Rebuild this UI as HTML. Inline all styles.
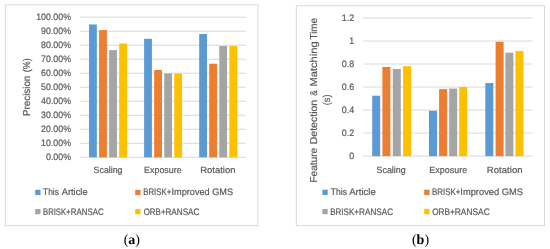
<!DOCTYPE html><html><head><meta charset="utf-8"><style>html,body{margin:0;padding:0;background:#fff;}svg{display:block}text{font-family:"Liberation Sans",sans-serif;fill:#595959;stroke:#595959;stroke-width:0.2px;text-rendering:geometricPrecision}</style></head><body>
<svg width="550" height="249" viewBox="0 0 550 249">
<rect width="550" height="249" fill="#fff"/>
<rect x="5.3" y="4.8" width="252.60" height="220.80" fill="none" stroke="#d9d9d9" stroke-width="1"/>
<line x1="80.2" x2="245.7" y1="17.20" y2="17.20" stroke="#d9d9d9" stroke-width="1"/>
<text transform="translate(71,20.20) scale(0.94,1)" text-anchor="end" font-size="9.4">100.00%</text>
<line x1="80.2" x2="245.7" y1="31.21" y2="31.21" stroke="#d9d9d9" stroke-width="1"/>
<text transform="translate(71,34.21) scale(0.94,1)" text-anchor="end" font-size="9.4">90.00%</text>
<line x1="80.2" x2="245.7" y1="45.22" y2="45.22" stroke="#d9d9d9" stroke-width="1"/>
<text transform="translate(71,48.22) scale(0.94,1)" text-anchor="end" font-size="9.4">80.00%</text>
<line x1="80.2" x2="245.7" y1="59.23" y2="59.23" stroke="#d9d9d9" stroke-width="1"/>
<text transform="translate(71,62.23) scale(0.94,1)" text-anchor="end" font-size="9.4">70.00%</text>
<line x1="80.2" x2="245.7" y1="73.24" y2="73.24" stroke="#d9d9d9" stroke-width="1"/>
<text transform="translate(71,76.24) scale(0.94,1)" text-anchor="end" font-size="9.4">60.00%</text>
<line x1="80.2" x2="245.7" y1="87.25" y2="87.25" stroke="#d9d9d9" stroke-width="1"/>
<text transform="translate(71,90.25) scale(0.94,1)" text-anchor="end" font-size="9.4">50.00%</text>
<line x1="80.2" x2="245.7" y1="101.26" y2="101.26" stroke="#d9d9d9" stroke-width="1"/>
<text transform="translate(71,104.26) scale(0.94,1)" text-anchor="end" font-size="9.4">40.00%</text>
<line x1="80.2" x2="245.7" y1="115.27" y2="115.27" stroke="#d9d9d9" stroke-width="1"/>
<text transform="translate(71,118.27) scale(0.94,1)" text-anchor="end" font-size="9.4">30.00%</text>
<line x1="80.2" x2="245.7" y1="129.28" y2="129.28" stroke="#d9d9d9" stroke-width="1"/>
<text transform="translate(71,132.28) scale(0.94,1)" text-anchor="end" font-size="9.4">20.00%</text>
<line x1="80.2" x2="245.7" y1="143.29" y2="143.29" stroke="#d9d9d9" stroke-width="1"/>
<text transform="translate(71,146.29) scale(0.94,1)" text-anchor="end" font-size="9.4">10.00%</text>
<line x1="80.2" x2="245.7" y1="157.30" y2="157.30" stroke="#d9d9d9" stroke-width="1"/>
<text transform="translate(71,160.30) scale(0.94,1)" text-anchor="end" font-size="9.4">0.00%</text>
<rect x="89.05" y="24.49" width="7.8" height="132.81" fill="#5b9bd5"/>
<rect x="99.10" y="30.09" width="7.8" height="127.21" fill="#ed7d31"/>
<rect x="109.15" y="50.12" width="7.8" height="107.18" fill="#a5a5a5"/>
<rect x="119.20" y="43.40" width="7.8" height="113.90" fill="#ffc000"/>
<rect x="144.12" y="38.78" width="7.8" height="118.52" fill="#5b9bd5"/>
<rect x="154.17" y="70.02" width="7.8" height="87.28" fill="#ed7d31"/>
<rect x="164.22" y="73.52" width="7.8" height="83.78" fill="#a5a5a5"/>
<rect x="174.27" y="73.52" width="7.8" height="83.78" fill="#ffc000"/>
<rect x="199.19" y="34.01" width="7.8" height="123.29" fill="#5b9bd5"/>
<rect x="209.24" y="63.71" width="7.8" height="93.59" fill="#ed7d31"/>
<rect x="219.29" y="46.06" width="7.8" height="111.24" fill="#a5a5a5"/>
<rect x="229.34" y="46.06" width="7.8" height="111.24" fill="#ffc000"/>
<text x="93.60" y="173.3" font-size="9.1" textLength="28.91" lengthAdjust="spacingAndGlyphs">Scaling</text>
<text x="144.05" y="173.3" font-size="9.1" textLength="37.59" lengthAdjust="spacingAndGlyphs">Exposure</text>
<text x="200.20" y="173.3" font-size="9.1" textLength="35.27" lengthAdjust="spacingAndGlyphs">Rotation</text>
<text x="43.06" y="195.3" font-size="9.4" textLength="15.88" lengthAdjust="spacingAndGlyphs">This</text>
<text x="61.69" y="195.3" font-size="9.4" textLength="25.93" lengthAdjust="spacingAndGlyphs">Article</text>
<text x="143.21" y="195.3" font-size="9.4" textLength="28.09" lengthAdjust="spacingAndGlyphs">BRISK+</text>
<text x="171.54" y="195.3" font-size="9.4" textLength="61.52" lengthAdjust="spacingAndGlyphs">Improved GMS</text>
<text x="43.00" y="214.6" font-size="9.4" textLength="27.61" lengthAdjust="spacingAndGlyphs">BRISK+</text>
<text x="70.66" y="214.6" font-size="9.4" textLength="33.06" lengthAdjust="spacingAndGlyphs">RANSAC</text>
<text x="143.70" y="214.6" font-size="9.4" textLength="21.84" lengthAdjust="spacingAndGlyphs">ORB+</text>
<text x="165.38" y="214.6" font-size="9.4" textLength="34.08" lengthAdjust="spacingAndGlyphs">RANSAC</text>
<text transform="translate(30.1,116.05) rotate(-90)" font-size="10.0" textLength="40.38" lengthAdjust="spacingAndGlyphs">Precision</text>
<text transform="translate(30.1,72.14) rotate(-90)" font-size="10.0" textLength="13.73" lengthAdjust="spacingAndGlyphs">(%)</text>
<rect x="35.2" y="189.8" width="5.3" height="5.3" fill="#5b9bd5"/>
<rect x="135.2" y="189.8" width="5.3" height="5.3" fill="#ed7d31"/>
<rect x="35.2" y="209.0" width="5.3" height="5.3" fill="#a5a5a5"/>
<rect x="135.2" y="209.0" width="5.3" height="5.3" fill="#ffc000"/>
<text x="131.8" y="243.7" text-anchor="middle" font-size="14" style="font-family:'Liberation Serif',serif;fill:#000;stroke:none">(<tspan font-weight="bold">a</tspan>)</text>
<rect x="296.3" y="5.8" width="248.20" height="219.80" fill="none" stroke="#d9d9d9" stroke-width="1"/>
<line x1="363.1" x2="532.5" y1="18.00" y2="18.00" stroke="#d9d9d9" stroke-width="1"/>
<text transform="translate(354.2,21.00) scale(0.95,1)" text-anchor="end" font-size="9.4">1.2</text>
<line x1="363.1" x2="532.5" y1="41.02" y2="41.02" stroke="#d9d9d9" stroke-width="1"/>
<text transform="translate(354.2,44.02) scale(0.95,1)" text-anchor="end" font-size="9.4">1</text>
<line x1="363.1" x2="532.5" y1="64.04" y2="64.04" stroke="#d9d9d9" stroke-width="1"/>
<text transform="translate(354.2,67.04) scale(0.95,1)" text-anchor="end" font-size="9.4">0.8</text>
<line x1="363.1" x2="532.5" y1="87.06" y2="87.06" stroke="#d9d9d9" stroke-width="1"/>
<text transform="translate(354.2,90.06) scale(0.95,1)" text-anchor="end" font-size="9.4">0.6</text>
<line x1="363.1" x2="532.5" y1="110.08" y2="110.08" stroke="#d9d9d9" stroke-width="1"/>
<text transform="translate(354.2,113.08) scale(0.95,1)" text-anchor="end" font-size="9.4">0.4</text>
<line x1="363.1" x2="532.5" y1="133.10" y2="133.10" stroke="#d9d9d9" stroke-width="1"/>
<text transform="translate(354.2,136.10) scale(0.95,1)" text-anchor="end" font-size="9.4">0.2</text>
<line x1="363.1" x2="532.5" y1="156.12" y2="156.12" stroke="#d9d9d9" stroke-width="1"/>
<text transform="translate(354.2,159.12) scale(0.95,1)" text-anchor="end" font-size="9.4">0</text>
<rect x="372.20" y="95.69" width="8.0" height="60.43" fill="#5b9bd5"/>
<rect x="382.40" y="66.92" width="8.0" height="89.20" fill="#ed7d31"/>
<rect x="392.80" y="68.99" width="8.0" height="87.13" fill="#a5a5a5"/>
<rect x="403.10" y="66.23" width="8.0" height="89.89" fill="#ffc000"/>
<rect x="429.00" y="110.77" width="8.0" height="45.35" fill="#5b9bd5"/>
<rect x="439.10" y="89.13" width="8.0" height="66.99" fill="#ed7d31"/>
<rect x="449.20" y="88.56" width="8.0" height="67.56" fill="#a5a5a5"/>
<rect x="459.20" y="87.06" width="8.0" height="69.06" fill="#ffc000"/>
<rect x="485.30" y="83.03" width="8.0" height="73.09" fill="#5b9bd5"/>
<rect x="495.60" y="41.83" width="8.0" height="114.29" fill="#ed7d31"/>
<rect x="505.40" y="52.65" width="8.0" height="103.47" fill="#a5a5a5"/>
<rect x="515.40" y="51.03" width="8.0" height="105.09" fill="#ffc000"/>
<text x="376.56" y="172.5" font-size="9.1" textLength="29.09" lengthAdjust="spacingAndGlyphs">Scaling</text>
<text x="429.37" y="172.5" font-size="9.1" textLength="37.89" lengthAdjust="spacingAndGlyphs">Exposure</text>
<text x="486.88" y="172.5" font-size="9.1" textLength="35.65" lengthAdjust="spacingAndGlyphs">Rotation</text>
<text x="330.84" y="195.3" font-size="9.4" textLength="16.11" lengthAdjust="spacingAndGlyphs">This</text>
<text x="349.22" y="195.3" font-size="9.4" textLength="26.52" lengthAdjust="spacingAndGlyphs">Article</text>
<text x="431.96" y="195.3" font-size="9.4" textLength="28.33" lengthAdjust="spacingAndGlyphs">BRISK+</text>
<text x="460.37" y="195.3" font-size="9.4" textLength="62.53" lengthAdjust="spacingAndGlyphs">Improved GMS</text>
<text x="330.23" y="214.6" font-size="9.4" textLength="28.70" lengthAdjust="spacingAndGlyphs">BRISK+</text>
<text x="359.12" y="214.6" font-size="9.4" textLength="33.96" lengthAdjust="spacingAndGlyphs">RANSAC</text>
<text x="432.21" y="214.6" font-size="9.4" textLength="22.51" lengthAdjust="spacingAndGlyphs">ORB+</text>
<text x="454.79" y="214.6" font-size="9.4" textLength="34.93" lengthAdjust="spacingAndGlyphs">RANSAC</text>
<text transform="translate(316.7,182.60) rotate(-90)" font-size="10.0" textLength="34.68" lengthAdjust="spacingAndGlyphs">Feature</text>
<text transform="translate(316.7,144.26) rotate(-90)" font-size="10.0" textLength="44.46" lengthAdjust="spacingAndGlyphs">Detection</text>
<text transform="translate(316.7,95.65) rotate(-90)" font-size="10.0" textLength="5.50" lengthAdjust="spacingAndGlyphs">&amp;</text>
<text transform="translate(316.7,86.59) rotate(-90)" font-size="10.0" textLength="45.18" lengthAdjust="spacingAndGlyphs">Matching</text>
<text transform="translate(316.7,39.49) rotate(-90)" font-size="10.0" textLength="21.52" lengthAdjust="spacingAndGlyphs">Time</text>
<text transform="translate(329.9,105.19) rotate(-90)" font-size="10.0" textLength="10.69" lengthAdjust="spacingAndGlyphs">(s)</text>
<rect x="322.4" y="189.7" width="5.3" height="5.3" fill="#5b9bd5"/>
<rect x="424.2" y="189.7" width="5.3" height="5.3" fill="#ed7d31"/>
<rect x="322.4" y="208.9" width="5.3" height="5.3" fill="#a5a5a5"/>
<rect x="424.2" y="208.9" width="5.3" height="5.3" fill="#ffc000"/>
<text x="420.5" y="243.7" text-anchor="middle" font-size="14" style="font-family:'Liberation Serif',serif;fill:#000;stroke:none">(<tspan font-weight="bold">b</tspan>)</text>
</svg></body></html>
